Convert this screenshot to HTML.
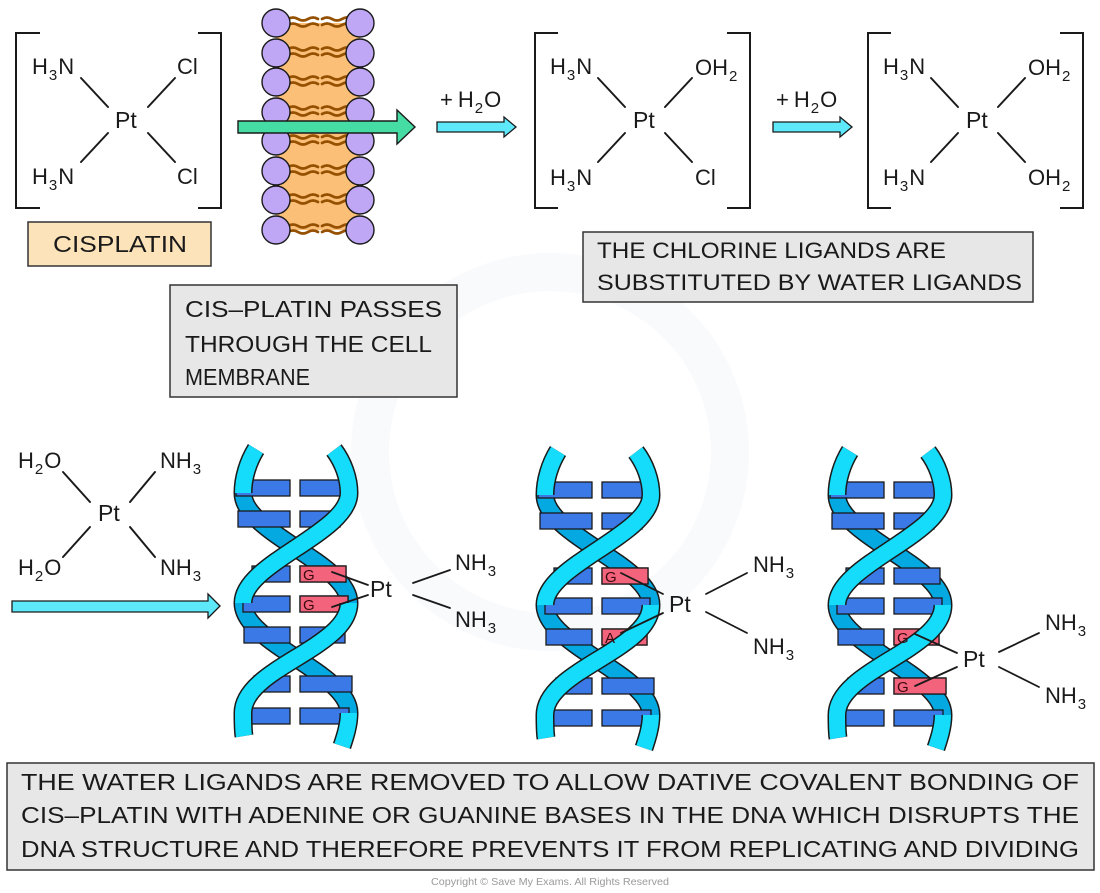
<!DOCTYPE html>
<html><head><meta charset="utf-8">
<style>
html,body{margin:0;padding:0;background:#fff;}
svg{display:block;}
text{font-family:"Liberation Sans",sans-serif;fill:#1a1a1a;}
</style></head>
<body>
<svg width="1100" height="893" viewBox="0 0 1100 893" xmlns="http://www.w3.org/2000/svg">
<defs>
  <g id="hback" fill="none" stroke-linecap="butt">
    <path d="M243,493 C243,533 349,563 349,603" stroke="#1a1a1a" stroke-width="19"/>
    <path d="M243,493 C243,533 349,563 349,603" stroke="#04a9e2" stroke-width="16"/>
    <path d="M243,603 C243,643 349,673 349,713" stroke="#1a1a1a" stroke-width="19"/>
    <path d="M243,603 C243,643 349,673 349,713" stroke="#04a9e2" stroke-width="16"/>
  </g>
  <g id="hrung" fill="#3b7ae6" stroke="#1a1a1a" stroke-width="1.3">
    <rect x="236" y="480" width="54" height="16"/><rect x="300" y="480" width="50" height="16"/>
    <rect x="238" y="511" width="52" height="16"/><rect x="300" y="511" width="40" height="16"/>
    <rect x="252" y="566" width="38" height="16"/><rect x="300" y="566" width="46" height="16"/>
    <rect x="243" y="596" width="47" height="16"/><rect x="300" y="596" width="48" height="16"/>
    <rect x="244" y="627" width="46" height="16"/><rect x="300" y="627" width="45" height="16"/>
    <rect x="254" y="676" width="36" height="16"/><rect x="300" y="676" width="52" height="16"/>
    <rect x="245" y="708" width="45" height="16"/><rect x="300" y="708" width="49" height="16"/>
  </g>
  <g id="hfront" fill="none" stroke-linecap="butt">
    <path d="M256,449 C248,462 243,478 243,493" stroke="#1a1a1a" stroke-width="19"/>
    <path d="M256,449 C248,462 243,478 243,493" stroke="#14dcfa" stroke-width="16"/>
    <path d="M334,450 C343,462 349,478 349,493" stroke="#1a1a1a" stroke-width="19"/>
    <path d="M334,450 C343,462 349,478 349,493" stroke="#14dcfa" stroke-width="16"/>
    <path d="M349,493 C349,533 243,563 243,603" stroke="#1a1a1a" stroke-width="19"/>
    <path d="M349,493 C349,533 243,563 243,603" stroke="#14dcfa" stroke-width="16"/>
    <path d="M349,603 C349,648 243,668 243,713" stroke="#1a1a1a" stroke-width="19"/>
    <path d="M349,603 C349,648 243,668 243,713" stroke="#14dcfa" stroke-width="16"/>
    <path d="M243,713 C243,722 243,730 244,736" stroke="#1a1a1a" stroke-width="19"/>
    <path d="M243,713 C243,722 243,730 244,736" stroke="#14dcfa" stroke-width="16"/>
    <path d="M349,713 C349,725 345,737 342,746" stroke="#1a1a1a" stroke-width="19"/>
    <path d="M349,713 C349,725 345,737 342,746" stroke="#14dcfa" stroke-width="16"/>
  </g>
</defs>

<!-- faint watermark -->
<circle cx="550" cy="452" r="180" fill="none" stroke="#f8fafc" stroke-width="38"/>

<!-- membrane -->
<rect x="276" y="23" width="84" height="207" fill="#fbbf77"/>
<g fill="none" stroke-linecap="round">
<path id="tails" d="M288 19Q293 16 298 19T308 19T318 19M322 19Q327 16 332 19T342 19T350 19
M288 25Q293 22 298 25T308 25T318 25M322 25Q327 22 332 25T342 25T350 25
M288 49Q293 46 298 49T308 49T318 49M322 49Q327 46 332 49T342 49T350 49
M288 55Q293 52 298 55T308 55T318 55M322 55Q327 52 332 55T342 55T350 55
M288 78Q293 75 298 78T308 78T318 78M322 78Q327 75 332 78T342 78T350 78
M288 84Q293 81 298 84T308 84T318 84M322 84Q327 81 332 84T342 84T350 84
M288 108Q293 105 298 108T308 108T318 108M322 108Q327 105 332 108T342 108T350 108
M288 114Q293 111 298 114T308 114T318 114M322 114Q327 111 332 114T342 114T350 114
M288 137Q293 134 298 137T308 137T318 137M322 137Q327 134 332 137T342 137T350 137
M288 143Q293 140 298 143T308 143T318 143M322 143Q327 140 332 143T342 143T350 143
M288 167Q293 164 298 167T308 167T318 167M322 167Q327 164 332 167T342 167T350 167
M288 173Q293 170 298 173T308 173T318 173M322 173Q327 170 332 173T342 173T350 173
M288 196Q293 193 298 196T308 196T318 196M322 196Q327 193 332 196T342 196T350 196
M288 202Q293 199 298 202T308 202T318 202M322 202Q327 199 332 202T342 202T350 202
M288 226Q293 223 298 226T308 226T318 226M322 226Q327 223 332 226T342 226T350 226
M288 232Q293 229 298 232T308 232T318 232M322 232Q327 229 332 232T342 232T350 232" stroke="#955000" stroke-width="2.5"/>
<use href="#tails" stroke="#f59a2a" stroke-width="1.2"/>
</g>
<g fill="#c0a7f6" stroke="#1a1a1a" stroke-width="1.4">
<circle cx="276" cy="23" r="14"/><circle cx="360" cy="23" r="14"/>
<circle cx="276" cy="53" r="14"/><circle cx="360" cy="53" r="14"/>
<circle cx="276" cy="82" r="14"/><circle cx="360" cy="82" r="14"/>
<circle cx="276" cy="112" r="14"/><circle cx="360" cy="112" r="14"/>
<circle cx="276" cy="141" r="14"/><circle cx="360" cy="141" r="14"/>
<circle cx="276" cy="171" r="14"/><circle cx="360" cy="171" r="14"/>
<circle cx="276" cy="200" r="14"/><circle cx="360" cy="200" r="14"/>
<circle cx="276" cy="230" r="14"/><circle cx="360" cy="230" r="14"/>
</g>
<polygon points="238,121 397,121 397,110 415,127 397,144 397,133 238,133" fill="#45dda3" stroke="#1a1a1a" stroke-width="1.4"/>

<!-- brackets -->
<g fill="none" stroke="#1a1a1a" stroke-width="2">
<path d="M40,33 H16 V208 H40"/><path d="M198,33 H221 V208 H198"/>
<path d="M558,33 H535 V208 H558"/><path d="M727,33 H750 V208 H727"/>
<path d="M891,33 H868 V208 H891"/><path d="M1060,33 H1083 V208 H1060"/>
</g>

<!-- bonds -->
<g stroke="#1a1a1a" stroke-width="2" stroke-linecap="round">
<line x1="81" y1="78" x2="108" y2="107"/><line x1="175" y1="78" x2="148" y2="107"/>
<line x1="108" y1="133" x2="81" y2="162"/><line x1="148" y1="133" x2="175" y2="162"/>
<line x1="598" y1="78" x2="625" y2="107"/><line x1="692" y1="78" x2="665" y2="107"/>
<line x1="625" y1="133" x2="598" y2="162"/><line x1="665" y1="133" x2="692" y2="162"/>
<line x1="931" y1="78" x2="958" y2="107"/><line x1="1025" y1="78" x2="998" y2="107"/>
<line x1="958" y1="133" x2="931" y2="162"/><line x1="998" y1="133" x2="1025" y2="162"/>
<line x1="63" y1="472" x2="90" y2="502"/><line x1="155" y1="472" x2="130" y2="502"/>
<line x1="90" y1="527" x2="63" y2="557"/><line x1="130" y1="527" x2="155" y2="557"/>
</g>

<!-- complex texts -->
<g font-size="22">
<text x="32" y="74">H<tspan font-size="15" dy="6" dx="1">3</tspan><tspan dy="-6" dx="1">N</tspan></text>
<text x="177" y="74">Cl</text>
<text x="115" y="128" font-size="23">Pt</text>
<text x="32" y="184">H<tspan font-size="15" dy="6" dx="1">3</tspan><tspan dy="-6" dx="1">N</tspan></text>
<text x="177" y="184">Cl</text>

<text x="550" y="74">H<tspan font-size="15" dy="6" dx="1">3</tspan><tspan dy="-6" dx="1">N</tspan></text>
<text x="695" y="75">OH<tspan font-size="15" dy="6" dx="1">2</tspan></text>
<text x="633" y="128" font-size="23">Pt</text>
<text x="550" y="185">H<tspan font-size="15" dy="6" dx="1">3</tspan><tspan dy="-6" dx="1">N</tspan></text>
<text x="695" y="185">Cl</text>

<text x="883" y="74">H<tspan font-size="15" dy="6" dx="1">3</tspan><tspan dy="-6" dx="1">N</tspan></text>
<text x="1028" y="75">OH<tspan font-size="15" dy="6" dx="1">2</tspan></text>
<text x="966" y="128" font-size="23">Pt</text>
<text x="883" y="185">H<tspan font-size="15" dy="6" dx="1">3</tspan><tspan dy="-6" dx="1">N</tspan></text>
<text x="1028" y="185">OH<tspan font-size="15" dy="6" dx="1">2</tspan></text>

<text x="440" y="107">+<tspan dx="5">H</tspan><tspan font-size="15" dy="6" dx="1">2</tspan><tspan dy="-6" dx="1">O</tspan></text>
<text x="776" y="107">+<tspan dx="5">H</tspan><tspan font-size="15" dy="6" dx="1">2</tspan><tspan dy="-6" dx="1">O</tspan></text>

<text x="18" y="468">H<tspan font-size="15" dy="6" dx="1">2</tspan><tspan dy="-6" dx="1">O</tspan></text>
<text x="160" y="468">NH<tspan font-size="15" dy="6" dx="1">3</tspan></text>
<text x="98" y="521" font-size="23">Pt</text>
<text x="18" y="575">H<tspan font-size="15" dy="6" dx="1">2</tspan><tspan dy="-6" dx="1">O</tspan></text>
<text x="160" y="575">NH<tspan font-size="15" dy="6" dx="1">3</tspan></text>
</g>

<!-- cyan arrows -->
<g fill="#5ee9fb" stroke="#1a1a1a" stroke-width="1.3">
<polygon points="437,122 504,122 504,117 516,127 504,137 504,132 437,132"/>
<polygon points="773,122 840,122 840,117 852,127 840,137 840,132 773,132"/>
<polygon points="12,601 208,601 208,594 220,606 208,618 208,612 12,612"/>
</g>

<!-- boxes -->
<rect x="28" y="222" width="183" height="44" fill="#fde3b9" stroke="#333" stroke-width="1.5"/>
<text x="53" y="252" font-size="23" textLength="134" lengthAdjust="spacingAndGlyphs">CISPLATIN</text>

<rect x="170" y="285" width="287" height="112" fill="#e7e7e7" stroke="#333" stroke-width="1.5"/>
<g font-size="23">
<text x="185" y="317" textLength="257" lengthAdjust="spacingAndGlyphs">CIS–PLATIN  PASSES</text>
<text x="185" y="352" textLength="247" lengthAdjust="spacingAndGlyphs">THROUGH THE CELL</text>
<text x="185" y="385" textLength="125" lengthAdjust="spacingAndGlyphs">MEMBRANE</text>
</g>

<rect x="583" y="232" width="450" height="70" fill="#e7e7e7" stroke="#333" stroke-width="1.5"/>
<g font-size="22">
<text x="597" y="258" textLength="349" lengthAdjust="spacingAndGlyphs">THE  CHLORINE  LIGANDS  ARE</text>
<text x="597" y="290" textLength="425" lengthAdjust="spacingAndGlyphs">SUBSTITUTED  BY  WATER  LIGANDS</text>
</g>

<!-- helix 1 -->
<g>
<use href="#hback"/><use href="#hrung"/>
<rect x="300" y="566" width="46" height="16" fill="#f4637c" stroke="#1a1a1a" stroke-width="1.3"/>
<rect x="300" y="596" width="48" height="16" fill="#f4637c" stroke="#1a1a1a" stroke-width="1.3"/>
<use href="#hfront"/>
<text x="303" y="580" font-size="15" style="fill:#3a0a10">G</text>
<text x="303" y="610" font-size="15" style="fill:#3a0a10">G</text>
</g>
<!-- helix 2 -->
<g transform="translate(302,2)">
<use href="#hback"/><use href="#hrung"/>
<rect x="300" y="566" width="46" height="16" fill="#f4637c" stroke="#1a1a1a" stroke-width="1.3"/>
<rect x="300" y="627" width="45" height="16" fill="#f4637c" stroke="#1a1a1a" stroke-width="1.3"/>
<use href="#hfront"/>
<text x="303" y="580" font-size="15" style="fill:#3a0a10">G</text>
<text x="303" y="641" font-size="15" style="fill:#3a0a10">A</text>
</g>
<!-- helix 3 -->
<g transform="translate(594,2)">
<use href="#hback"/><use href="#hrung"/>
<rect x="300" y="627" width="45" height="16" fill="#f4637c" stroke="#1a1a1a" stroke-width="1.3"/>
<rect x="300" y="676" width="52" height="16" fill="#f4637c" stroke="#1a1a1a" stroke-width="1.3"/>
<use href="#hfront"/>
<text x="303" y="641" font-size="15" style="fill:#3a0a10">G</text>
<text x="303" y="690" font-size="15" style="fill:#3a0a10">G</text>
</g>

<!-- Pt connections -->
<g stroke="#1a1a1a" stroke-width="1.8" stroke-linecap="round">
<line x1="332" y1="572" x2="368" y2="585"/><line x1="332" y1="607" x2="368" y2="595"/>
<line x1="413" y1="583" x2="450" y2="570"/><line x1="413" y1="595" x2="450" y2="608"/>
<line x1="621" y1="573" x2="663" y2="594"/><line x1="621" y1="633" x2="663" y2="613"/>
<line x1="706" y1="594" x2="747" y2="573"/><line x1="706" y1="612" x2="747" y2="633"/>
<line x1="915" y1="634" x2="957" y2="653"/><line x1="915" y1="686" x2="957" y2="667"/>
<line x1="999" y1="652" x2="1039" y2="633"/><line x1="999" y1="667" x2="1039" y2="687"/>
</g>
<g font-size="22">
<text x="370" y="597" font-size="23">Pt</text>
<text x="455" y="570">NH<tspan font-size="15" dy="6" dx="1">3</tspan></text>
<text x="455" y="627">NH<tspan font-size="15" dy="6" dx="1">3</tspan></text>
<text x="669" y="612" font-size="23">Pt</text>
<text x="753" y="572">NH<tspan font-size="15" dy="6" dx="1">3</tspan></text>
<text x="753" y="654">NH<tspan font-size="15" dy="6" dx="1">3</tspan></text>
<text x="963" y="667" font-size="23">Pt</text>
<text x="1045" y="630">NH<tspan font-size="15" dy="6" dx="1">3</tspan></text>
<text x="1045" y="703">NH<tspan font-size="15" dy="6" dx="1">3</tspan></text>
</g>

<!-- bottom box -->
<rect x="7" y="763" width="1087" height="107" fill="#e7e7e7" stroke="#333" stroke-width="1.5"/>
<g font-size="23.5">
<text x="21" y="790" textLength="1058" lengthAdjust="spacingAndGlyphs">THE  WATER  LIGANDS  ARE  REMOVED  TO  ALLOW  DATIVE  COVALENT  BONDING  OF</text>
<text x="21" y="823" textLength="1058" lengthAdjust="spacingAndGlyphs">CIS–PLATIN  WITH  ADENINE  OR  GUANINE  BASES  IN  THE  DNA  WHICH  DISRUPTS  THE</text>
<text x="21" y="857" textLength="1058" lengthAdjust="spacingAndGlyphs">DNA  STRUCTURE  AND  THEREFORE  PREVENTS  IT  FROM  REPLICATING  AND  DIVIDING</text>
</g>
<text x="431" y="885" font-size="10.5" textLength="238" lengthAdjust="spacingAndGlyphs" style="fill:#9a9a9a">Copyright © Save My Exams. All Rights Reserved</text>
</svg>
</body></html>
